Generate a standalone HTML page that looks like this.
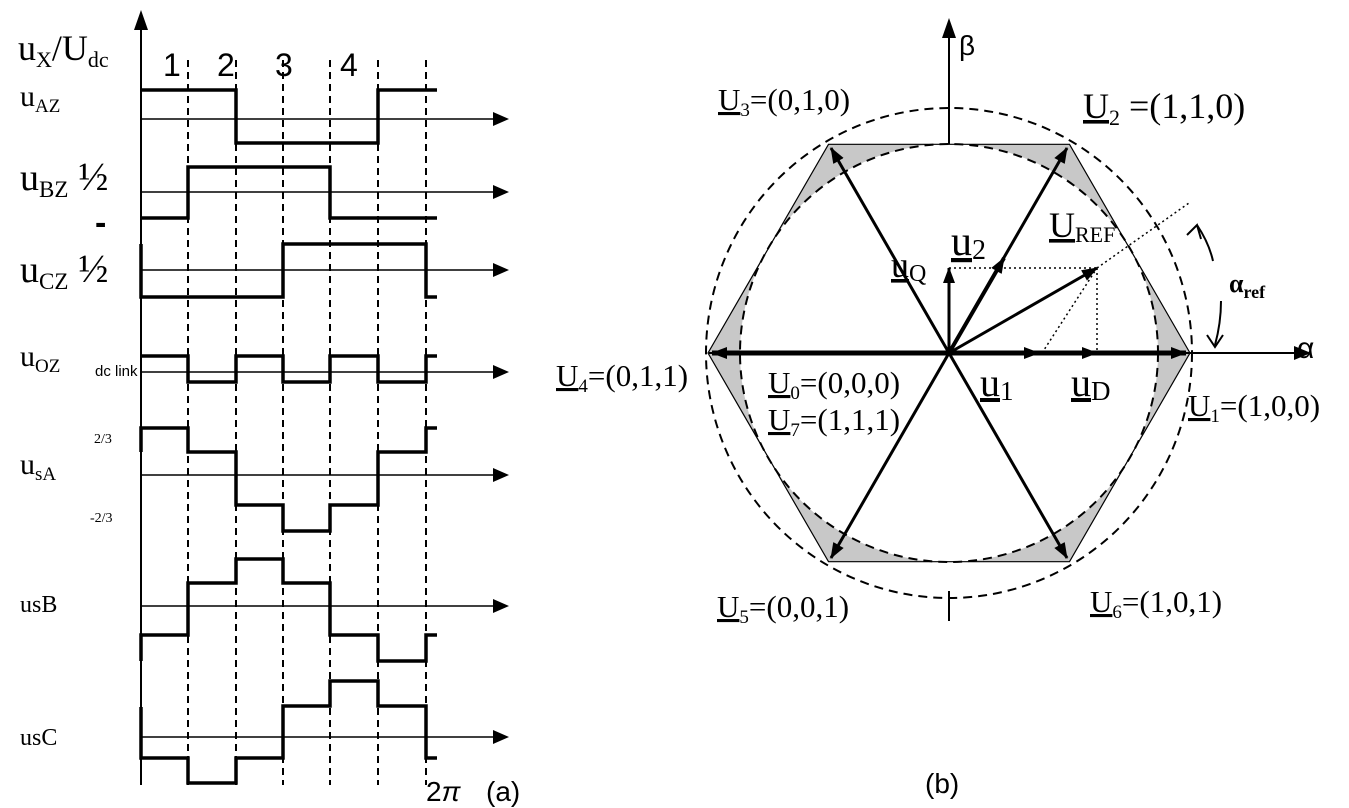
<!DOCTYPE html>
<html><head><meta charset="utf-8"><style>
html,body{margin:0;padding:0;background:#fff;}
svg{display:block;}
.s{font-family:"Liberation Serif",serif;fill:#000;}
.a{font-family:"Liberation Sans",sans-serif;fill:#000;}
</style></head><body>
<svg width="1349" height="808" viewBox="0 0 1349 808" xmlns="http://www.w3.org/2000/svg">
<defs>
<marker id="ab" markerWidth="16" markerHeight="12" refX="15" refY="6" orient="auto" markerUnits="userSpaceOnUse"><path d="M0,0 L16,6 L0,12 z" fill="#000"/></marker>
</defs>
<!-- LEFT PANEL -->
<line x1="141" y1="785" x2="141" y2="22" stroke="#000" stroke-width="2"/>
<path d="M134,30 L141,10 L148,30 z"/>
<g stroke="#000" stroke-width="2" stroke-dasharray="7,5">
<line x1="188" y1="60" x2="188" y2="785"/><line x1="236" y1="60" x2="236" y2="785"/><line x1="283" y1="60" x2="283" y2="785"/><line x1="330" y1="60" x2="330" y2="785"/><line x1="378" y1="60" x2="378" y2="785"/><line x1="426" y1="60" x2="426" y2="785"/>
</g>
<g stroke="#000" stroke-width="1.5">
<line x1="141" y1="119" x2="495" y2="119"/><line x1="141" y1="192" x2="495" y2="192"/><line x1="141" y1="270" x2="495" y2="270"/><line x1="141" y1="372" x2="495" y2="372"/><line x1="141" y1="475" x2="495" y2="475"/><line x1="141" y1="606" x2="495" y2="606"/><line x1="141" y1="737" x2="495" y2="737"/>
</g>
<g>
<path d="M493,112 L509,119 L493,126z"/><path d="M493,185 L509,192 L493,199z"/><path d="M493,263 L509,270 L493,277z"/><path d="M493,365 L509,372 L493,379z"/><path d="M493,468 L509,475 L493,482z"/><path d="M493,599 L509,606 L493,613z"/><path d="M493,730 L509,737 L493,744z"/>
</g>
<g fill="none" stroke="#000" stroke-width="3.5">
<path d="M141,90 H236 V143 H378 V90 H437"/>
<path d="M141,218 H188 V167 H330 V218 H437"/>
<path d="M141,244 V297 H283 V244 H426 V297 H437"/>
<path d="M141,356 H188 V382 H236 V356 H283 V382 H330 V356 H378 V382 H426 V356 H437"/>
<path d="M141,452 V428 H188 V452 H236 V505 H283 V531 H330 V505 H378 V452 H426 V428 H437"/>
<path d="M141,661 V635 H188 V583 H236 V559 H283 V583 H330 V635 H378 V661 H426 V635 H437"/>
<path d="M141,707 V758 H188 V783 H236 V758 H283 V706 H330 V681 H378 V706 H426 V758 H437"/>
</g>
<text class="s" x="18" y="60" font-size="36">u<tspan font-size="22" dy="7">X</tspan><tspan dy="-7">/U</tspan><tspan font-size="22" dy="7">dc</tspan></text>
<g class="a" font-size="32"><text x="163" y="76">1</text><text x="217" y="76">2</text><text x="275" y="76">3</text><text x="340" y="76">4</text></g>
<text class="s" x="20" y="106" font-size="30">u<tspan font-size="19" dy="6">AZ</tspan></text>
<text class="s" x="20" y="190" font-size="38">u<tspan font-size="23" dy="7">BZ</tspan><tspan dy="-7" font-size="40"> ½</tspan></text>
<text class="a" x="95" y="234" font-size="34" font-weight="bold">-</text>
<text class="s" x="20" y="282" font-size="38">u<tspan font-size="23" dy="7">CZ</tspan><tspan dy="-7" font-size="40"> ½</tspan></text>
<text class="s" x="20" y="366" font-size="30">u<tspan font-size="19" dy="6">OZ</tspan></text>
<text class="a" x="95" y="376" font-size="15">dc link</text>
<text class="s" x="94" y="443" font-size="14">2/3</text>
<text class="s" x="20" y="474" font-size="30">u<tspan font-size="19" dy="6">sA</tspan></text>
<text class="s" x="90" y="522" font-size="14">-2/3</text>
<text class="s" x="20" y="612" font-size="24">usB</text>
<text class="s" x="20" y="745" font-size="24">usC</text>
<text class="a" x="426" y="801" font-size="28">2<tspan font-style="italic">π</tspan></text>
<text class="a" x="486" y="801" font-size="28">(a)</text>

<!-- RIGHT PANEL -->
<g transform="translate(949,353)">
<path d="M241,0 L120.5,-208.7 L-120.5,-208.7 L-241,0 L-120.5,208.7 L120.5,208.7 Z M209,0 A209,209 0 1,0 -209,0 A209,209 0 1,0 209,0 Z" fill="#c8c8c8" fill-rule="evenodd"/>
<path d="M241,0 L120.5,-208.7 L-120.5,-208.7 L-241,0 L-120.5,208.7 L120.5,208.7 Z" fill="none" stroke="#000" stroke-width="1.2"/>
<circle r="209" fill="none" stroke="#000" stroke-width="2" stroke-dasharray="9,6"/>
<ellipse rx="243" ry="245" fill="none" stroke="#000" stroke-width="2" stroke-dasharray="9,6"/>
<line x1="-240" y1="0" x2="355" y2="0" stroke="#000" stroke-width="2"/>
<path d="M345,-7 L362,0 L345,7z"/>
<line x1="0" y1="-240" x2="0" y2="-325" stroke="#000" stroke-width="2"/>
<path d="M-7,-315 L0,-335 L7,-315z"/>
<line x1="0" y1="-240" x2="0" y2="-209" stroke="#000" stroke-width="2"/>
<line x1="0" y1="238" x2="0" y2="268" stroke="#000" stroke-width="2"/>
<g stroke="#000" stroke-width="3">
<line x1="0" y1="0" x2="237" y2="0" marker-end="url(#ab)" stroke-width="5"/>
<line x1="0" y1="0" x2="-237" y2="0" marker-end="url(#ab)" stroke-width="5"/>
<line x1="0" y1="0" x2="118" y2="-205" marker-end="url(#ab)"/>
<line x1="0" y1="0" x2="-118" y2="-205" marker-end="url(#ab)"/>
<line x1="0" y1="0" x2="-118" y2="205" marker-end="url(#ab)"/>
<line x1="0" y1="0" x2="118" y2="205" marker-end="url(#ab)"/>
<line x1="0" y1="0" x2="90" y2="0" marker-end="url(#ab)" stroke-width="5"/>
<line x1="0" y1="0" x2="148" y2="0" marker-end="url(#ab)" stroke-width="5"/>
<line x1="0" y1="0" x2="0" y2="-85" marker-end="url(#ab)"/>
<line x1="0" y1="0" x2="55" y2="-95" marker-end="url(#ab)" stroke-width="4"/>
<line x1="0" y1="0" x2="148" y2="-85" marker-end="url(#ab)"/>
</g>
<g stroke="#000" stroke-width="1.5" stroke-dasharray="2,3" fill="none">
<line x1="0" y1="-85" x2="148" y2="-85"/>
<line x1="148" y1="-85" x2="148" y2="0"/>
<line x1="93" y1="0" x2="148" y2="-85"/>
<line x1="148" y1="-85" x2="240" y2="-150"/>
</g>
<path d="M248,-128 Q260,-110 264,-92" fill="none" stroke="#000" stroke-width="2"/>
<path d="M238,-118 L248,-128 L252,-114" fill="none" stroke="#000" stroke-width="2"/>
<path d="M272,-52 Q272,-30 266,-8" fill="none" stroke="#000" stroke-width="2"/>
<path d="M258,-18 L266,-6 L274,-18" fill="none" stroke="#000" stroke-width="2"/>
</g>
<text class="a" x="959" y="55" font-size="28">β</text>
<text class="a" x="1297" y="358" font-size="30">α</text>
<text class="s" x="1229" y="292" font-size="26" font-weight="bold">α<tspan font-size="18" dy="6">ref</tspan></text>
<text class="s" x="718" y="110" font-size="31"><tspan text-decoration="underline">U</tspan><tspan font-size="19" dy="6">3</tspan><tspan dy="-6">=(0,1,0)</tspan></text>
<text class="s" x="1083" y="118" font-size="36"><tspan text-decoration="underline">U</tspan><tspan font-size="22" dy="7">2</tspan><tspan dy="-7"> =(1,1,0)</tspan></text>
<text class="s" x="556" y="386" font-size="31"><tspan text-decoration="underline">U</tspan><tspan font-size="19" dy="6">4</tspan><tspan dy="-6">=(0,1,1)</tspan></text>
<text class="s" x="1188" y="416" font-size="31"><tspan text-decoration="underline">U</tspan><tspan font-size="19" dy="6">1</tspan><tspan dy="-6">=(1,0,0)</tspan></text>
<text class="s" x="768" y="393" font-size="31"><tspan text-decoration="underline">U</tspan><tspan font-size="19" dy="6">0</tspan><tspan dy="-6">=(0,0,0)</tspan></text>
<text class="s" x="768" y="430" font-size="31"><tspan text-decoration="underline">U</tspan><tspan font-size="19" dy="6">7</tspan><tspan dy="-6">=(1,1,1)</tspan></text>
<text class="s" x="717" y="617" font-size="31"><tspan text-decoration="underline">U</tspan><tspan font-size="19" dy="6">5</tspan><tspan dy="-6">=(0,0,1)</tspan></text>
<text class="s" x="1090" y="612" font-size="31"><tspan text-decoration="underline">U</tspan><tspan font-size="19" dy="6">6</tspan><tspan dy="-6">=(1,0,1)</tspan></text>
<text class="s" x="1049" y="237" font-size="36"><tspan text-decoration="underline">U</tspan><tspan font-size="22" dy="5">REF</tspan></text>
<text class="s" x="951" y="255" font-size="42"><tspan text-decoration="underline">u</tspan><tspan font-size="28" dy="4">2</tspan></text>
<text class="s" x="891" y="277" font-size="36"><tspan text-decoration="underline">u</tspan><tspan font-size="24" dy="4">Q</tspan></text>
<text class="s" x="980" y="396" font-size="40"><tspan text-decoration="underline">u</tspan><tspan font-size="27" dy="4">1</tspan></text>
<text class="s" x="1071" y="396" font-size="40"><tspan text-decoration="underline">u</tspan><tspan font-size="27" dy="4">D</tspan></text>
<text class="a" x="925" y="793" font-size="28">(b)</text>
</svg>
</body></html>
